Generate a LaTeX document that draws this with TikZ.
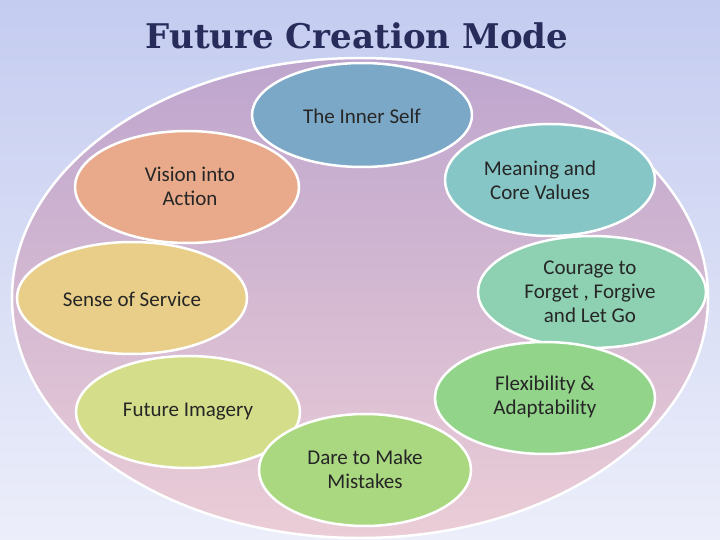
\documentclass[tikz,border=0pt]{standalone}
\usepackage{fontspec}
\setmainfont{Carlito}
\newfontfamily\titlefont{DejaVu Serif}
\begin{document}
\begin{tikzpicture}[x=1pt,y=-1pt,
  petal/.style={draw=white,line width=2.5pt},
  lbl/.style={font=\fontsize{21}{24}\selectfont,align=center,text=black!85}]
\useasboundingbox (0,0) rectangle (720,540);
\shade[top color={rgb,255:red,196;green,204;blue,240},bottom color={rgb,255:red,236;green,238;blue,250}] (0,0) rectangle (720,540);
\node (title) [font=\titlefont\bfseries\fontsize{34}{40}\selectfont,text={rgb,255:red,40;green,44;blue,90}] at (357,36) {Future Creation Mode};
\shade[top color={rgb,255:red,190;green,165;blue,205},bottom color={rgb,255:red,235;green,205;blue,215},draw=white,line width=2.5pt] (360,298) ellipse (348 and 240);
\path[petal,fill={rgb,255:red,232;green,170;blue,138}] (187,187) ellipse (112 and 56);
\path[petal,fill={rgb,255:red,123;green,168;blue,198}] (362,115) ellipse (110 and 52);
\path[petal,fill={rgb,255:red,134;green,198;blue,198}] (550,180) ellipse (105 and 56);
\path[petal,fill={rgb,255:red,232;green,206;blue,136}] (132,298) ellipse (115 and 56);
\path[petal,fill={rgb,255:red,142;green,208;blue,178}] (592,292) ellipse (114 and 56);
\path[petal,fill={rgb,255:red,212;green,222;blue,138}] (188,412) ellipse (112 and 56);
\path[petal,fill={rgb,255:red,146;green,212;blue,138}] (545,398) ellipse (110 and 56);
\path[petal,fill={rgb,255:red,170;green,216;blue,128}] (365,470) ellipse (106 and 56);
\node (n1) [lbl] at (362,116) {The Inner Self};
\node (n2) [lbl] at (540,180) {Meaning and\\Core Values};
\node (n3) [lbl] at (590,292) {Courage to\\Forget , Forgive\\and Let Go};
\node (n4) [lbl] at (545,397) {Flexibility \&\\Adaptability};
\node (n5) [lbl] at (365,469) {Dare to Make\\Mistakes};
\node (n6) [lbl] at (188,412) {Future Imagery};
\node (n7) [lbl] at (132,299) {Sense of Service};
\node (n8) [lbl] at (190,186) {Vision into\\Action};
\end{tikzpicture}
\end{document}
